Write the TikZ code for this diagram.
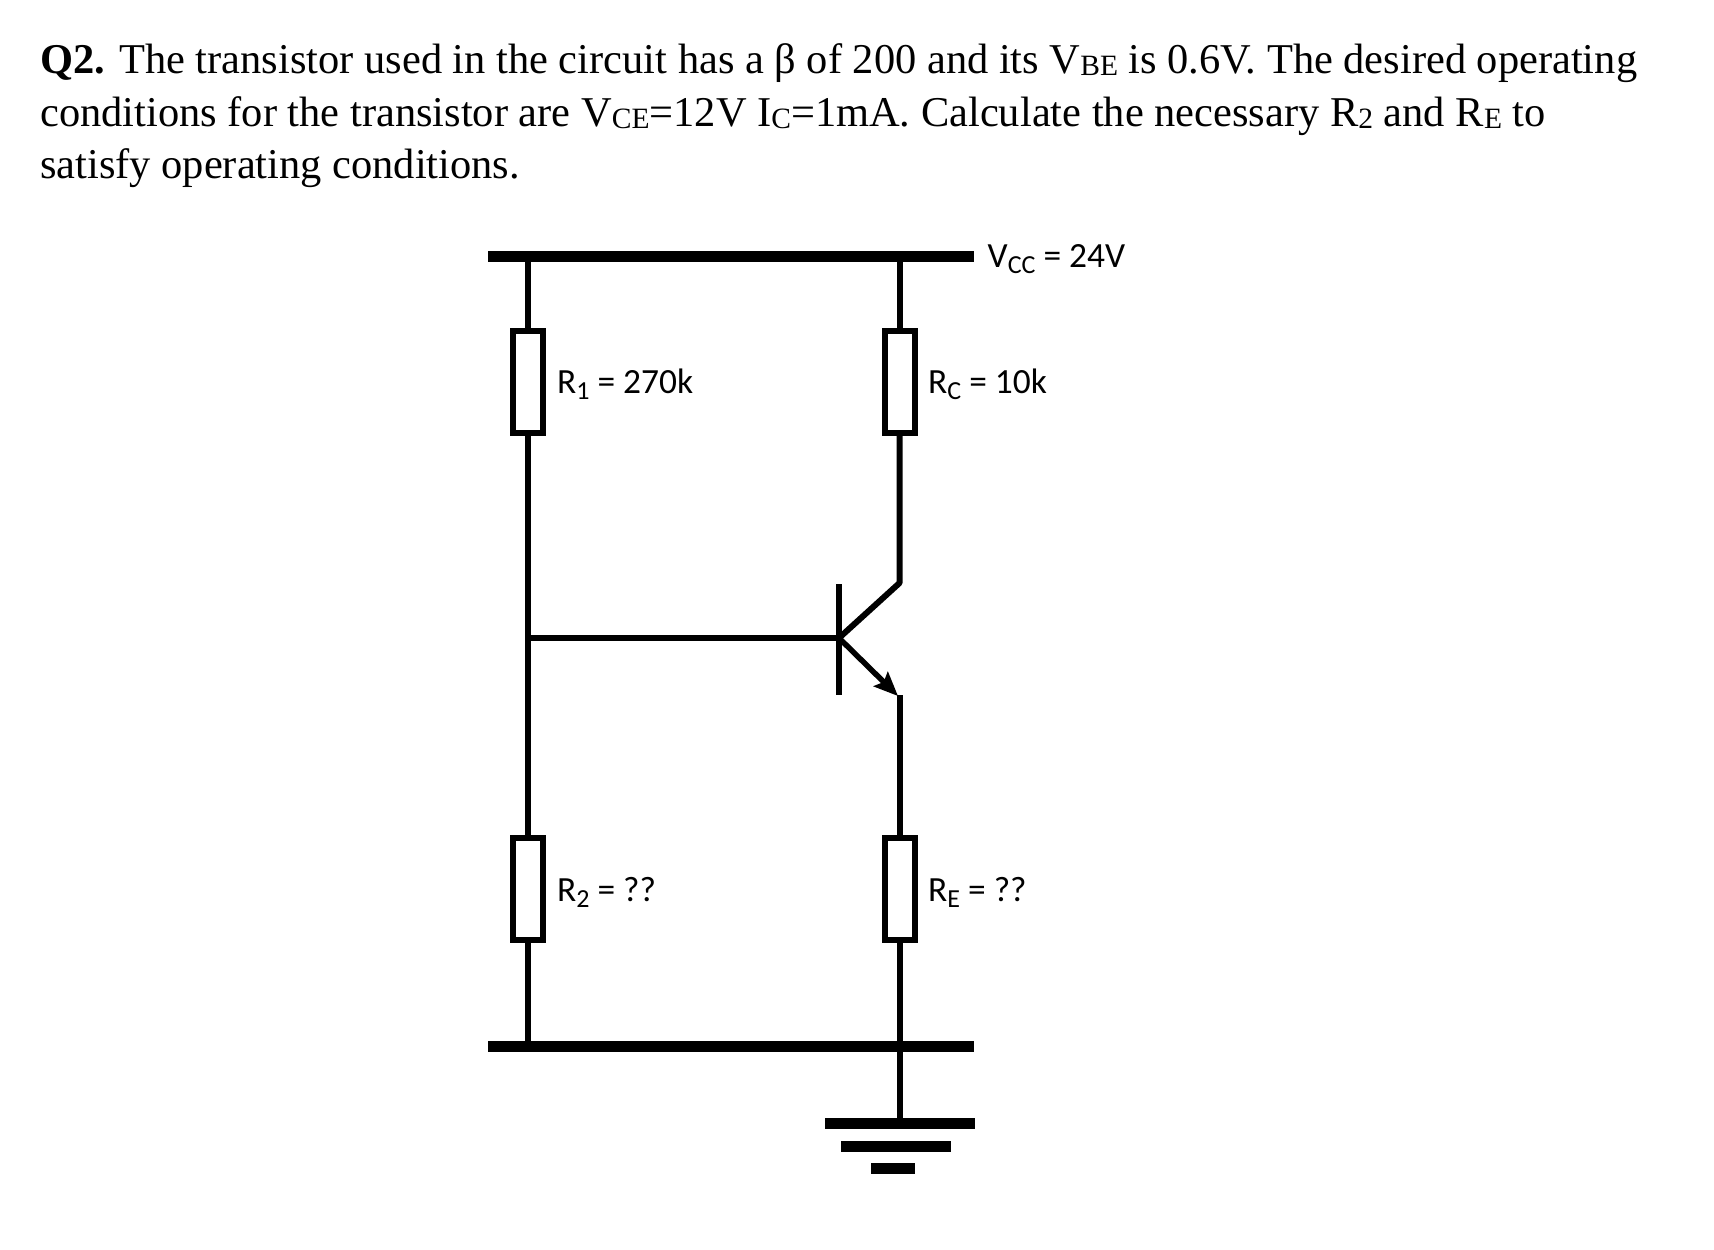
\documentclass[tikz,border=0pt]{standalone}
\usepackage{fontspec}
\setmainfont{Liberation Serif}
\newfontfamily\lblfont{Carlito}
\usetikzlibrary{arrows.meta}
\newcommand{\smalltxt}[1]{\raisebox{-2pt}{\fontsize{29.5}{29.5}\selectfont #1}}
\newcommand{\lblsub}[1]{\raisebox{-6pt}{\fontsize{26}{26}\selectfont #1}}
\tikzset{
  x=1pt,y=-1pt,
  heading/.style={anchor=base west,inner sep=0pt,font=\fontsize{42.45}{42.45}\selectfont},
  lbl/.style={anchor=base west,inner sep=0pt,font=\lblfont\fontsize{35.4}{35.4}\selectfont},
  wire/.style={line width=6pt,line cap=butt},
  resistor/.style={draw,line width=6pt,fill=white,minimum width=30pt,minimum height=102pt,inner sep=0pt,outer sep=0pt},
  busbar/.style={fill=black,inner sep=0pt,outer sep=0pt,minimum height=11pt},
}
\begin{document}
\begin{tikzpicture}
\useasboundingbox (0,0) rectangle (1714,1250);
% text
\node[heading] (l1) at (40,73) {\textbf{Q2.} The transistor used in the circuit has a β of 200 and its V\smalltxt{BE} is 0.6V. The desired operating};
\node[heading] (l2) at (40,126) {conditions for the transistor are V\smalltxt{CE}=12V I\smalltxt{C}=1mA. Calculate the necessary R\smalltxt{2} and R\smalltxt{E} to};
\node[heading] (l3) at (40,178) {satisfy operating conditions.};
% bars
\node[busbar,minimum width=486pt] (vcc) at (731,256.5) {};
\node[busbar,minimum width=486pt] (gnd) at (731,1046.5) {};
\node[busbar,minimum width=150pt] (g1) at (900,1123.5) {};
\node[busbar,minimum width=110pt] (g2) at (896,1146.5) {};
\node[busbar,minimum width=44pt] (g3) at (893,1168.5) {};
% resistors
\node[resistor] (r1) at (528,382) {};
\node[resistor] (rc) at (899.5,382) {};
\node[resistor] (r2) at (528,888.5) {};
\node[resistor] (re) at (899.5,888.5) {};
% transistor
\coordinate (b) at (839,638);
\coordinate (bt) at (839,584);
\coordinate (bb) at (839,695);
\coordinate (c) at (899.5,583);
\coordinate (e) at (898,696);
\coordinate (ew) at (899.5,695);
\coordinate (n) at (525,638);
% wires
\draw[wire] (r1.north) -- (r1.north |- vcc.center);
\draw[wire] (rc.north) -- (rc.north |- vcc.center);
\draw[wire] (r1.south) -- (r2.north);
\draw[wire] (r2.south) -- (r2.south |- gnd.center);
\draw[wire] (re.south) -- (g1.north -| re.south);
\draw[wire,line join=round] (rc.south) -- (c) -- (b);
\draw[wire] (n) -- (b);
\draw[wire] (bt) -- (bb);
\draw[line width=5.5pt,-{Stealth[length=24pt,width=20pt,inset=4pt]}] (b) -- (e);
\draw[wire] (ew) -- (re.north);
% labels
\node[lbl] (lr1) at (557,393.5) {R\lblsub{1} = 270k};
\node[lbl] (lrc) at (928,393.5) {R\lblsub{C} = 10k};
\node[lbl] (lvcc) at (987.5,267) {V\lblsub{CC} = 24V};
\node[lbl] (lr2) at (557,901) {R\lblsub{2} = ??};
\node[lbl] (lre) at (928,901) {R\lblsub{E} = ??};
\end{tikzpicture}
\end{document}
